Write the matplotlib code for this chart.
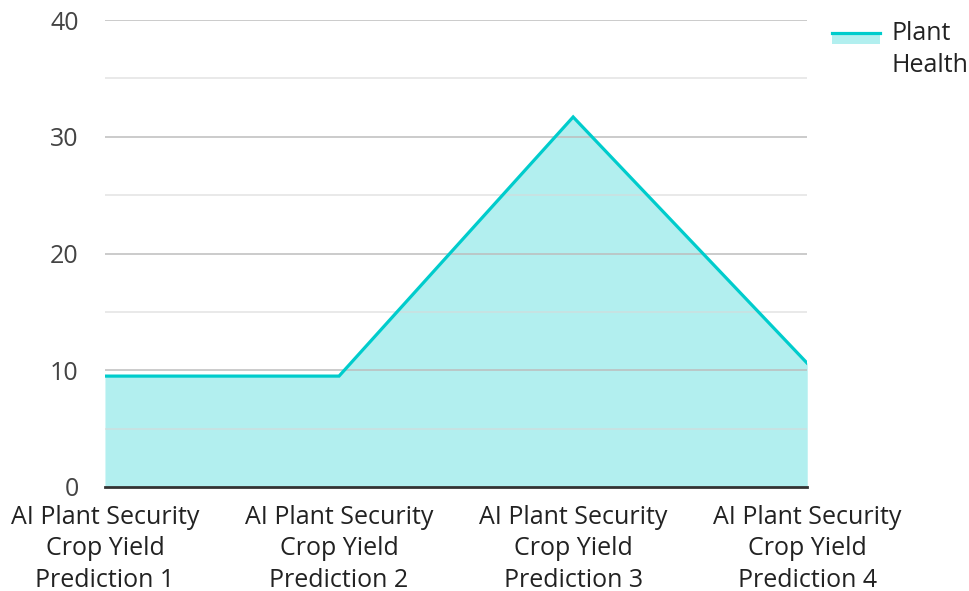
import matplotlib
matplotlib.use("Agg")
import matplotlib.pyplot as plt
from matplotlib.lines import Line2D
from matplotlib.patches import Rectangle
from matplotlib.legend_handler import HandlerBase

plt.rcParams['font.family'] = ['Open Sans', 'DejaVu Sans']

categories = [
    "AI Plant Security\nCrop Yield\nPrediction 1",
    "AI Plant Security\nCrop Yield\nPrediction 2",
    "AI Plant Security\nCrop Yield\nPrediction 3",
    "AI Plant Security\nCrop Yield\nPrediction 4",
]
plant_health = [9.5, 9.5, 31.7, 10.6]
series_name = "Plant\nHealth"

line_color = "#00CCCC"
fill_color = "#B2EFEF"


class AreaHandler(HandlerBase):
    """Legend key: a line sitting on top of a thin filled band, level with the first text line."""
    def create_artists(self, legend, orig_handle, xdescent, ydescent,
                       width, height, fontsize, trans):
        top = height * 1.45
        band = Rectangle((-xdescent, top - height * 0.6), width, height * 0.6,
                         facecolor=fill_color, edgecolor="none", transform=trans)
        line = Line2D([-xdescent, -xdescent + width], [top, top],
                      color=line_color, linewidth=2.3, transform=trans)
        return [band, line]


fig = plt.figure(figsize=(9.7, 5.91), dpi=100)
ax = fig.add_axes([0.1082, 0.176, 0.724, 0.790])

x = list(range(len(categories)))
ax.fill_between(x, 0, plant_health, color=fill_color, linewidth=0, zorder=1)
ax.plot(x, plant_health, color=line_color, linewidth=2.3, zorder=3,
        solid_joinstyle='miter')

# grid: major lines every 10, minor every 5
for v in range(5, 41, 5):
    major = v % 10 == 0
    ax.axhline(v, color="#bdbdbd" if major else "#d8d8d8",
               linewidth=1.3, alpha=0.85 if major else 0.6, zorder=2)

ax.set_xlim(0, len(categories) - 1)
ax.set_ylim(0, 40)
ax.set_yticks([0, 10, 20, 30, 40])
ax.set_xticks(x)
ax.set_xticklabels(categories, linespacing=1.33)

for s in ["top", "right", "left"]:
    ax.spines[s].set_visible(False)
ax.spines["bottom"].set_color("#333333")
ax.spines["bottom"].set_linewidth(2)
ax.spines["bottom"].set_zorder(4)

ax.tick_params(axis="y", length=0, pad=19, labelsize=18, labelcolor="#444444")
ax.tick_params(axis="x", length=0, pad=13, labelsize=18, labelcolor="#222222")

leg = fig.legend([object()], [series_name], loc="upper left",
                 bbox_to_anchor=(0.858, 0.965), frameon=False,
                 borderpad=0, borderaxespad=0,
                 fontsize=18, handlelength=1.9, handletextpad=0.45,
                 handler_map={object: AreaHandler()})
for t in leg.get_texts():
    t.set_color("#222222")
    t.set_linespacing(1.38)

fig.savefig("out.png", dpi=100)
